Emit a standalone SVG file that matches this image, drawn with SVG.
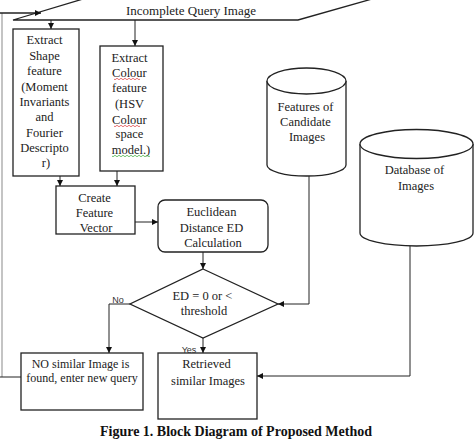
<svg xmlns="http://www.w3.org/2000/svg" width="474" height="439" viewBox="0 0 474 439">
<defs>
<marker id="arr" viewBox="0 0 10 10" refX="10" refY="5" markerWidth="6" markerHeight="6" orient="auto" markerUnits="userSpaceOnUse">
<path d="M0,0 L10,5 L0,10 z" fill="#111"/>
</marker>
</defs>
<style>
.box{fill:#fff;stroke:#222;stroke-width:1.3}
.ln{fill:none;stroke:#222;stroke-width:1}
.t{font-family:"Liberation Serif","Times New Roman",serif;font-size:12.5px;fill:#222;text-anchor:middle}
.s{font-family:"Liberation Sans",Arial,sans-serif;font-size:9px;fill:#333;text-anchor:middle}
.sq{fill:none;stroke-width:0.7}
</style>
<rect width="474" height="439" fill="#fff"/>

<g id="query">
<path class="box" d="M13,20 L83,-1 L372,-1 L298,20 Z" style="fill:#fff"/>
<text class="t" x="191" y="15" style="font-size:13px">Incomplete Query Image</text>
</g>

<g id="shape">
<rect class="box" x="13" y="29" width="66" height="147"/>
<text class="t" x="46">
<tspan x="46" y="44">Extract</tspan>
<tspan x="46" y="60">Shape</tspan>
<tspan x="46" y="75">feature</tspan>
<tspan x="46" y="91">(Moment</tspan>
<tspan x="46" y="106">Invariants</tspan>
<tspan x="46" y="121">and</tspan>
<tspan x="46" y="137">Fourier</tspan>
<tspan x="46" y="152">Descripto</tspan>
<tspan x="46" y="167">r)</tspan>
</text>
</g>

<g id="colour">
<rect class="box" x="100" y="46" width="63" height="125"/>
<text class="t" x="131">
<tspan x="131" y="62">Extract</tspan>
<tspan x="131" y="77">Colour</tspan>
<tspan x="131" y="92">feature</tspan>
<tspan x="131" y="108">(HSV</tspan>
<tspan x="131" y="124">Colour</tspan>
<tspan x="131" y="138">space</tspan>
<tspan x="131" y="154">model.)</tspan>
</text>
<path class="sq" stroke="#d33" d="M114,79 q1,1.5 2,0 t2,0 t2,0 t2,0 t2,0 t2,0 t2,0 t2,0 t2,0 t2,0 t2,0 t2,0 t2,0"/>
<path class="sq" stroke="#d33" d="M114,126 q1,1.5 2,0 t2,0 t2,0 t2,0 t2,0 t2,0 t2,0 t2,0 t2,0 t2,0 t2,0 t2,0 t2,0"/>
<path class="sq" stroke="#3a3" d="M112,156 q1,1.5 2,0 t2,0 t2,0 t2,0 t2,0 t2,0 t2,0 t2,0 t2,0 t2,0 t2,0 t2,0 t2,0 t2,0 t2,0 t2,0 t2,0 t2,0 t2,0"/>
</g>

<g id="vector">
<rect class="box" x="56" y="186" width="79" height="48"/>
<text class="t">
<tspan x="96" y="202">Create</tspan>
<tspan x="96" y="217">Feature</tspan>
<tspan x="96" y="232">Vector</tspan>
</text>
</g>

<g id="euclid">
<rect class="box" x="158" y="200" width="110" height="52" rx="7"/>
<text class="t">
<tspan x="213" y="216">Euclidean</tspan>
<tspan x="213" y="232">Distance ED</tspan>
<tspan x="213" y="247">Calculation</tspan>
</text>
</g>

<g id="decision">
<path class="box" d="M203,269 L278,304 L203,338 L130,304 Z"/>
<text class="t">
<tspan x="204" y="300">ED = 0 or &lt;</tspan>
<tspan x="204" y="315">threshold</tspan>
</text>
</g>

<g id="candidate">
<path class="box" d="M267,81 L267,165 A39.5,11 0 0 0 346,165 L346,81"/>
<ellipse class="box" cx="306.5" cy="81" rx="39.5" ry="13"/>
<text class="t">
<tspan x="307" y="111">Features of</tspan>
<tspan x="307" y="126">Candidate</tspan>
<tspan x="307" y="141">Images</tspan>
</text>
</g>

<g id="database">
<path class="box" d="M360,144 L360,233 A56.5,13 0 0 0 473,233 L473,144"/>
<ellipse class="box" cx="416.5" cy="144" rx="56.5" ry="14.5"/>
<text class="t">
<tspan x="416" y="174">Database of</tspan>
<tspan x="416" y="190">Images</tspan>
</text>
</g>

<g id="nomatch">
<rect class="box" x="21" y="353" width="122" height="57"/>
<text class="t" style="font-size:12px">
<tspan x="82" y="368">NO similar Image is</tspan>
<tspan x="82" y="382">found, enter new query</tspan>
</text>
</g>

<g id="retrieved">
<rect class="box" x="158" y="353" width="99" height="66"/>
<text class="t">
<tspan x="208" y="368">Retrieved</tspan>
<tspan x="208" y="385">similar Images</tspan>
</text>
</g>

<g id="connectors">
<path class="ln" d="M51,20 V29" marker-end="url(#arr)"/>
<path class="ln" d="M135,20 V46" marker-end="url(#arr)"/>
<path class="ln" d="M60,176 V186" marker-end="url(#arr)"/>
<path class="ln" d="M117,171 V186" marker-end="url(#arr)"/>
<path class="ln" d="M135,222 H158" marker-end="url(#arr)"/>
<path class="ln" d="M203,252 V269" marker-end="url(#arr)"/>
<path class="ln" d="M309,176 V304 H278" marker-end="url(#arr)"/>
<path class="ln" d="M410,246 V376 H257" marker-end="url(#arr)"/>
<path class="ln" d="M130,304 H109 V353" marker-end="url(#arr)"/>
<path class="ln" d="M203,338 V353" marker-end="url(#arr)"/>
<path fill="none" stroke="#c4c4c4" stroke-width="2" d="M2,377 V13"/>
<path class="ln" d="M0,377 H21"/>
<path class="ln" d="M0,13 H41" marker-end="url(#arr)" style="stroke-width:1.3"/>
<text class="s" x="118" y="303">No</text>
<text class="s" x="189" y="353">Yes</text>
</g>

<text x="236" y="436" style="font-family:'Liberation Serif','Times New Roman',serif;font-size:14px;font-weight:bold;fill:#111;text-anchor:middle">Figure 1. Block Diagram of Proposed Method</text>
</svg>
